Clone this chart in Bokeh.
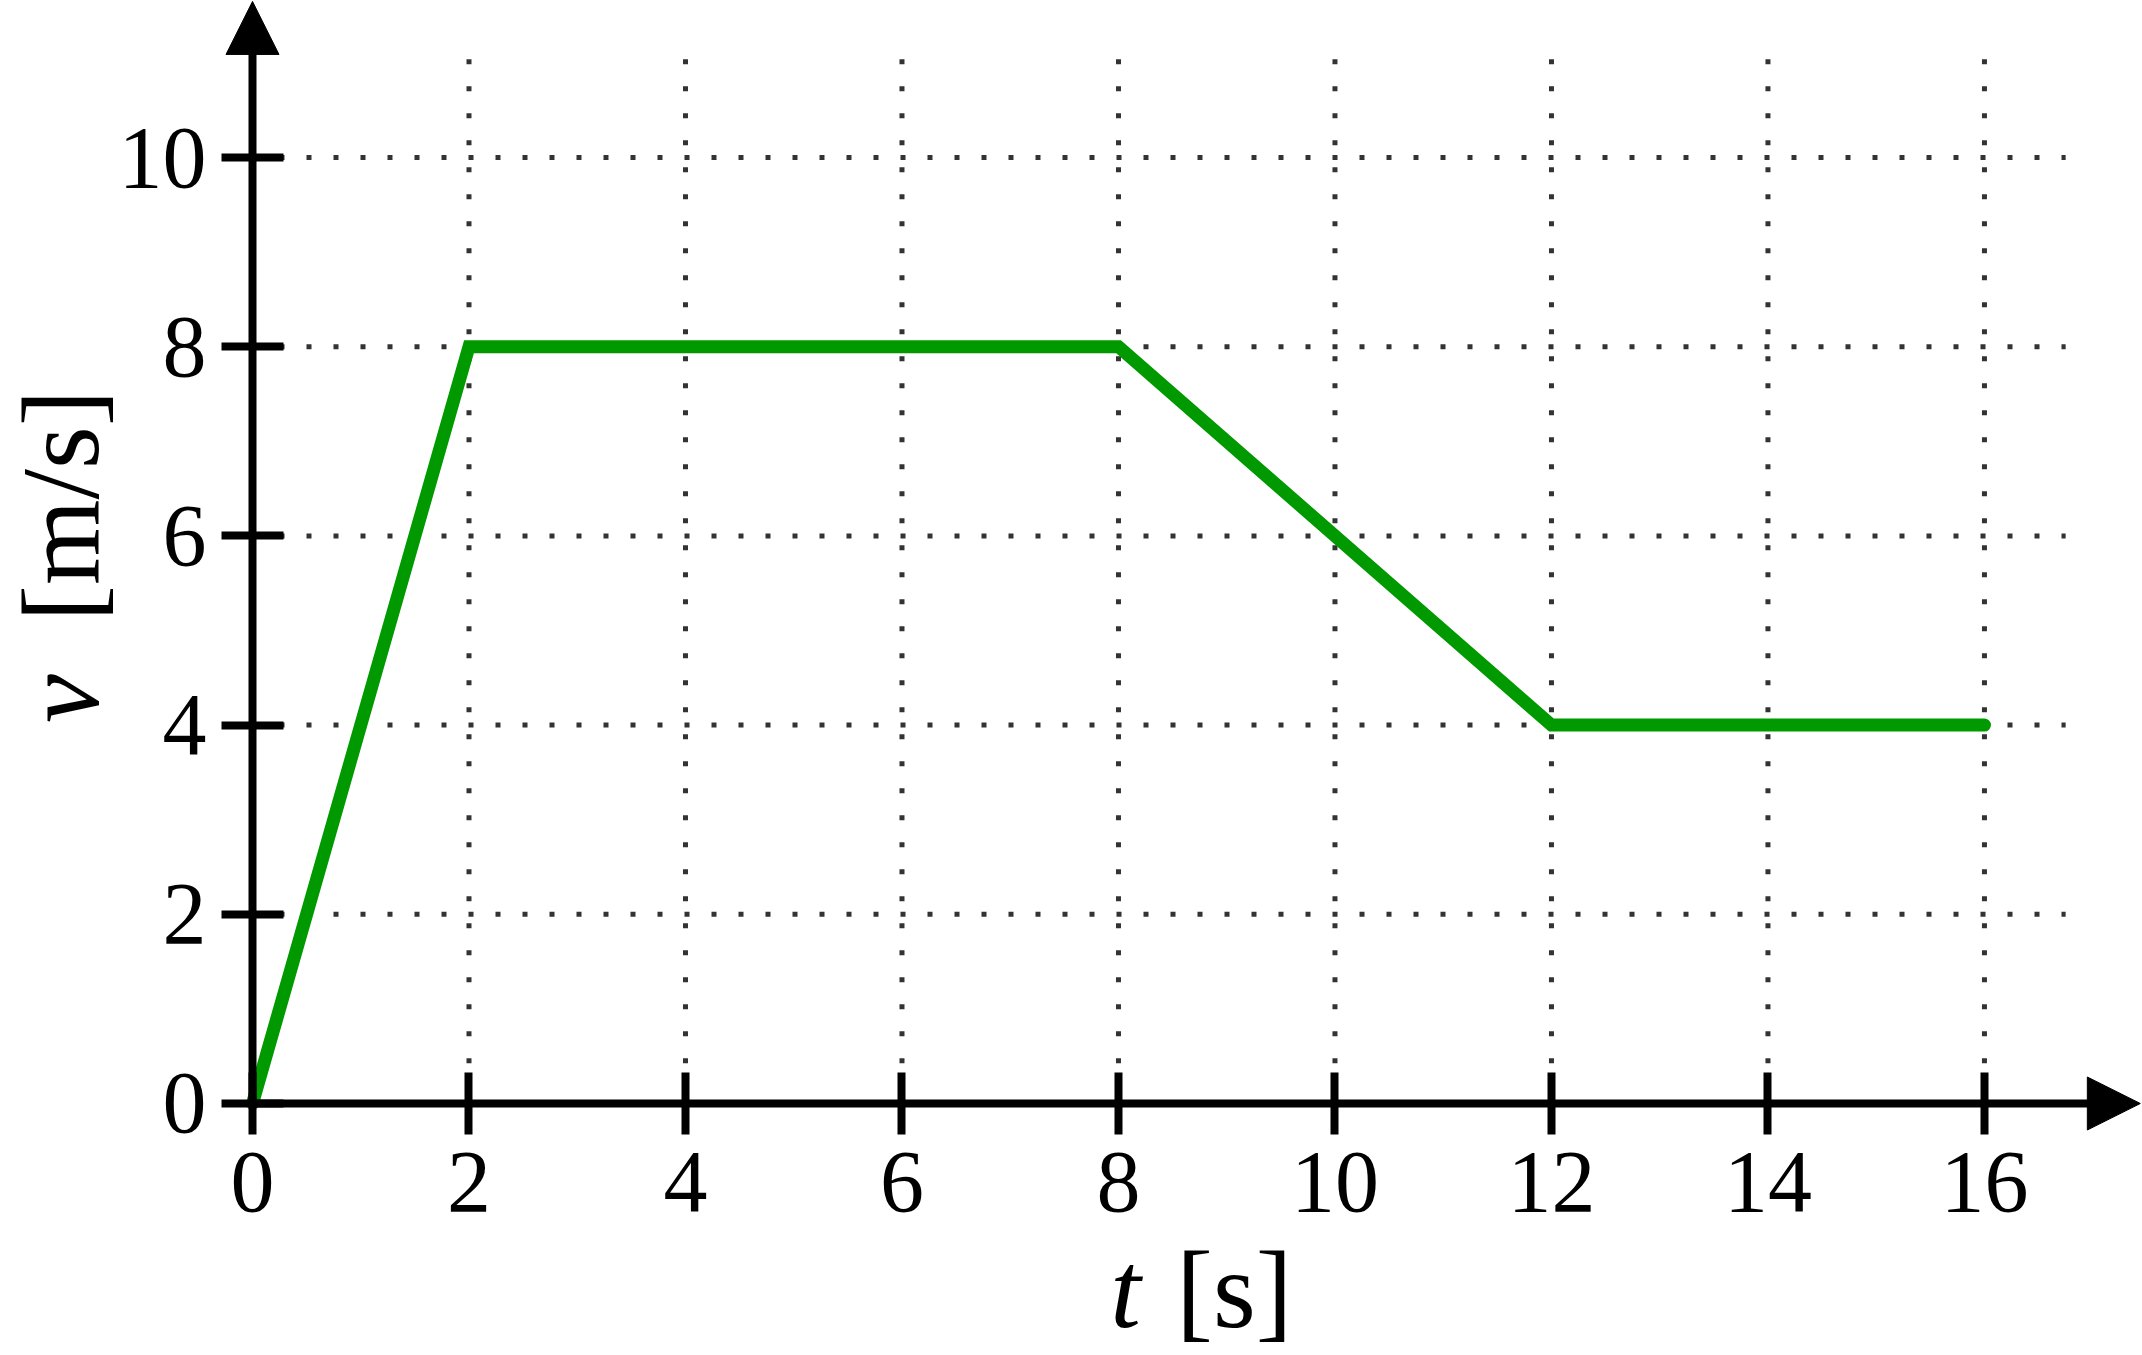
import math
from bokeh.plotting import figure
from bokeh.models import Range1d, FixedTicker, Arrow, NormalHead, Label
from bokeh.embed import file_html
from bokeh.resources import INLINE

# ---- data ----
time_s = [0, 2, 8, 12, 16]
velocity_ms = [0, 8, 8, 4, 4]
x_ticks = [0, 2, 4, 6, 8, 10, 12, 14, 16]
y_ticks = [0, 2, 4, 6, 8, 10]
x_title = ["t", "[s]"]
y_title = ["v", "[m/s]"]

# ---- layout constants ----
W, H = 2142, 1355
X0, X1 = -2.328, 17.46
Y0, Y1 = -2.664, 11.66
X_TIP, Y_TIP = 17.44, 11.65
GRID_RIGHT, GRID_TOP = 16.75, 11.04
TICK_FONT = "88px"
TITLE_FONT = "110px"
SERIF = "Liberation Serif"

p = figure(width=W, height=H, output_backend="svg", toolbar_location=None,
           x_range=Range1d(X0, X1), y_range=Range1d(Y0, Y1),
           min_border=0, min_border_left=0, min_border_bottom=0,
           min_border_top=0, min_border_right=0)
p.outline_line_color = None
p.background_fill_color = "white"
p.border_fill_color = "white"
p.xgrid.visible = False
p.ygrid.visible = False

for ax, ticks in ((p.xaxis[0], x_ticks), (p.yaxis[0], y_ticks)):
    ax.ticker = FixedTicker(ticks=ticks)
    ax.fixed_location = 0
    ax.axis_line_width = 8
    ax.axis_line_color = "black"
    ax.major_tick_line_width = 8
    ax.major_tick_line_color = "black"
    ax.major_tick_in = 31
    ax.major_tick_out = 31
    ax.minor_tick_line_color = None
    ax.major_label_text_font = SERIF
    ax.major_label_text_font_size = TICK_FONT
    ax.major_label_text_color = "black"
p.xaxis[0].bounds = (0, X_TIP - 0.3)
p.yaxis[0].bounds = (0, Y_TIP - 0.35)
p.xaxis[0].major_label_standoff = 19
p.yaxis[0].major_label_standoff = 15

# dotted grid (vertical lines drawn top-down so the dot pattern starts at the top)
gx = x_ticks[1:]
p.segment(x0=gx, y0=[GRID_TOP] * len(gx), x1=gx, y1=[0] * len(gx),
          line_color="#333333", line_width=5, line_dash="5 22")
gy = y_ticks[1:]
p.segment(x0=[0] * len(gy), y0=gy, x1=[GRID_RIGHT] * len(gy), y1=gy,
          line_color="#333333", line_width=5, line_dash="5 22")

# data line
p.line(time_s, velocity_ms, line_color="#009900", line_width=13,
       line_cap="round", line_join="miter")

# axis arrow heads
for xs, ys, xe, ye in ((X_TIP - 1, 0, X_TIP, 0), (0, Y_TIP - 1, 0, Y_TIP)):
    p.add_layout(Arrow(x_start=xs, y_start=ys, x_end=xe, y_end=ye,
                       line_color=None,
                       end=NormalHead(size=53, fill_color="black",
                                      line_color="black", line_width=1)))

# axis titles
common = dict(text_font=SERIF, text_font_size=TITLE_FONT, text_color="black",
              text_align="center", text_baseline="alphabetic")
p.add_layout(Label(x=8.065, y=-1.97, text=x_title[0],
                   text_font_style="italic", **common))
p.add_layout(Label(x=9.07, y=-1.97, text=x_title[1], **common))
p.add_layout(Label(x=-1.77, y=4.28, text=y_title[0], angle=math.pi / 2,
                   text_font_style="italic", **common))
p.add_layout(Label(x=-1.77, y=6.32, text=y_title[1], angle=math.pi / 2,
                   **common))

open("out.html", "w").write(file_html(p, INLINE))
